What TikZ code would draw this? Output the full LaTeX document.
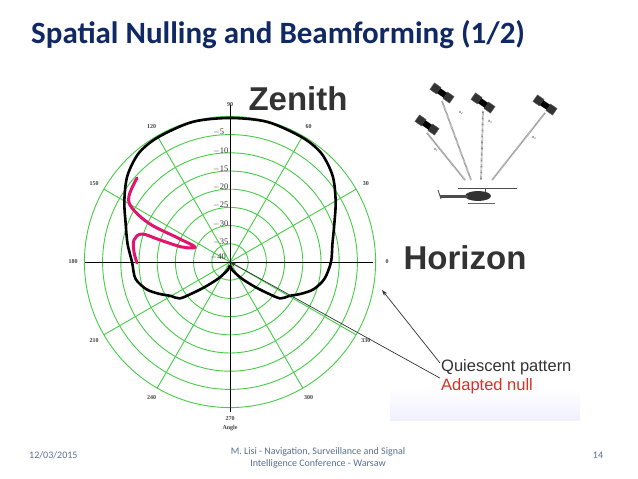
\documentclass[tikz,border=0pt]{standalone}
\usepackage{fontspec}
\setmainfont{Liberation Sans}
\newfontfamily\carl{Carlito}
\newfontfamily\tms{Liberation Serif}
\usetikzlibrary{arrows.meta}
\definecolor{ttl}{RGB}{16,40,100}
\definecolor{grn}{RGB}{70,205,70}
\definecolor{pnk}{RGB}{225,20,110}
\definecolor{ftr}{RGB}{90,110,150}
\definecolor{adred}{RGB}{215,50,35}
\tikzset{
  ring/.style={grn, line width=0.9pt},
  albl/.style={font=\tms\bfseries\fontsize{6}{6}\selectfont, text=black!75, inner sep=0pt},
  rlbl/.style={font=\tms\fontsize{8.5}{8.5}\selectfont, text=black!80, inner sep=0pt, anchor=east},
  big/.style={font=\fontsize{33}{33}\selectfont\bfseries, text=black!80, inner sep=0pt},
  leg/.style={font=\fontsize{16.5}{17}\selectfont, inner sep=1pt, anchor=west},
  foot/.style={font=\carl\fontsize{10}{12}\selectfont, text=ftr, align=center, inner sep=0pt},
  ptr/.style={black!80, line width=0.7pt, -{Stealth[length=6pt,width=4pt]}},
  sat/.style={fill=black!80, draw=black!60},
  beam/.style={black!45, line width=1.8pt, dash pattern=on 0.6pt off 0.6pt},
}
\begin{document}
\begin{tikzpicture}[x=1pt,y=-1pt]
\useasboundingbox (0,0) rectangle (638,479);
\fill[white] (0,0) rectangle (638,479);
\node[anchor=west, font=\carl\bfseries\fontsize{31}{31}\selectfont, text=ttl, inner sep=0pt] (title) at (31,35) {Spatial Nulling and Beamforming (1/2)};
% light band
\shade[top color=white, bottom color=blue!6] (390,388) rectangle (580,420);
% polar grid
\begin{scope}[shift={(230,262)}, yscale=-1]
  \foreach \k in {1,...,8} \draw[ring] (0,0) circle ({\k*18.2});
  \foreach \a in {30,60,120,150,210,240,300,330} \draw[ring] (0,0) -- (\a:145.6);
  \draw[black, line width=0.9pt] (-145,0) -- (143,0);
  \draw[black, line width=0.9pt] (0,157) -- (0,-150);
  \coordinate (c) at (0,0);
  % quiescent pattern
  \draw[black, line width=2.6pt, line join=round] plot[smooth] coordinates {
   (-90:3) (-75:8) (-55:20) (-45:35) (-40:48) (-36:62) (-30:68) (-24:78) (-18:88) (-10:96) (0:101) (10:104) (20:111) (30:122) (40:134) (50:142) (60:144) (75:145) (90:144)
   (105:145) (120:144) (130:142) (140:134) (150:122) (160:111) (170:104) (180:98) (190:96) (198:88) (204:78) (210:68) (216:62) (220:48) (225:35) (235:20) (255:8) (270:3)};
  % angle labels
  \foreach \a/\t in {90/90,60/60,30/30,0/0,330/330,300/300,270/270,240/240,210/210,180/180,150/150,120/120}
    \node[albl] at (\a:157) {\t};
  \node[albl] at (270:166) {Angle};
  \foreach \k/\t in {1/5,2/10,3/15,4/20,5/25,6/30,7/35}
    \node[rlbl] at (-1,{145.6-\k*18.2+2}) {$-$\makebox[9pt][l]{\t}};
\end{scope}
\node[rlbl] at (226,257) {$-$40};
% adapted null
\draw[pnk, line width=3pt, line cap=round, line join=round] plot[smooth, tension=0.6] coordinates {
  (137,178) (129,196) (132,208) (150,224) (178,238) (195,247) (182,247) (160,240) (142,234) (134,240) (134,252) (137,263)};
% big labels
\node[big] (zen) at (298,99) {Zenith};
\node[big] (hor) at (465,258) {Horizon};
\node[leg, text=black!80] (qs) at (440,367) {Quiescent pattern};
\node[leg, text=adred] (an) at (440,386) {Adapted null};
\draw[ptr] (qs.west) ++(0,-4) coordinate (q0) -- (382,290) coordinate (q1);
\draw[ptr] (an.north west) ++(0,1) coordinate (a0) -- (c);
% satellites scene
\foreach \sx/\sy/\hx in {442/93/471, 483/103/481, 545/105/492, 427/125/465}{
  \draw[beam] (\sx,\sy+8) -- (\hx,180);
  \begin{scope}[shift={(\sx,\sy)}, rotate=-35]
    \fill[sat] (-12,-4) rectangle (-4,4);
    \fill[sat] (4,-4) rectangle (12,4);
    \fill[black] (-4,-3) rectangle (4,3);
  \end{scope}
}
\foreach \x/\y/\t in {436/150/1, 461/113/2, 490/122/3, 534/138/4}
  \node[font=\itshape\fontsize{4}{4}\selectfont, text=black!70, inner sep=0pt] at (\x,\y) {a\textsubscript{\t}};
\draw[black!70, line width=0.8pt] (458,188) -- (517,188);
\draw[black!70, line width=0.8pt] (485,188) -- (485,192);
\fill[black!80] (478,196) ellipse (13 and 5);
\fill[black!70] (440,195) rectangle (468,198);
\draw[black!70, line width=0.8pt] (438,190) -- (441,199);
\draw[black!60] (468,203) -- (495,203);
% footer
\node[foot, anchor=west] (date) at (29,455) {12/03/2015};
\node[foot] (cred) at (318,458) {M. Lisi - Navigation, Surveillance and Signal\\Intelligence Conference - Warsaw};
\node[foot] (pg) at (598,455) {14};
\end{tikzpicture}
\end{document}
